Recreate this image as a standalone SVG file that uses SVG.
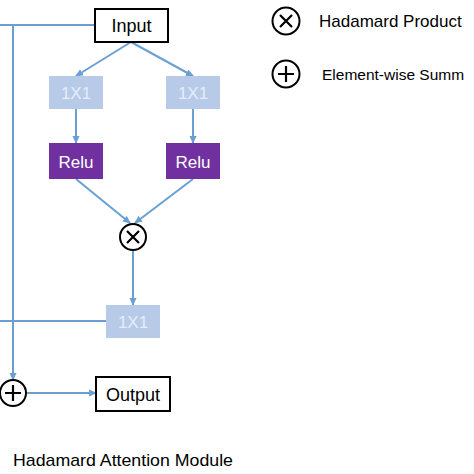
<svg xmlns="http://www.w3.org/2000/svg" width="474" height="474" viewBox="0 0 474 474">
<style>
.ln{stroke:#6a9fd4;stroke-width:2;fill:none}
.bx{fill:#fff;stroke:#000;stroke-width:2}
.c1{fill:#b7cae8}
.rl{fill:#7030a0}
.t{font-family:"Liberation Sans",Arial,sans-serif;font-size:17px;text-anchor:middle}
.tl{font-family:"Liberation Sans",Arial,sans-serif;font-size:17px}
.big{font-size:18px}
.w{fill:#fff}
.lw{fill:#e6edf8}
.op{fill:#fff;stroke:#000;stroke-width:2}
.sym{stroke:#000;stroke-width:2.2;fill:none}
</style>
<defs>
<marker id="ah" markerWidth="8" markerHeight="8" refX="7" refY="4" orient="auto" markerUnits="userSpaceOnUse">
<path d="M0,0.5 L8,4 L0,7.5 Z" fill="#6a9fd4"/>
</marker>
</defs>
<g id="connectors">
<path class="ln" d="M94,25 H0"/>
<path class="ln" d="M13,25 V380" marker-end="url(#ah)"/>
<path class="ln" d="M131,42 L76,76" marker-end="url(#ah)"/>
<path class="ln" d="M131,42 L193,76" marker-end="url(#ah)"/>
<path class="ln" d="M76,109 V143" marker-end="url(#ah)"/>
<path class="ln" d="M193,109 V143" marker-end="url(#ah)"/>
<path class="ln" d="M76,179 L130,223" marker-end="url(#ah)"/>
<path class="ln" d="M193,179 L135,223" marker-end="url(#ah)"/>
<path class="ln" d="M133,250 V305" marker-end="url(#ah)"/>
<path class="ln" d="M106,321 H0"/>
<path class="ln" d="M26,393 H96" marker-end="url(#ah)"/>
</g>
<g id="input"><rect class="bx" x="95" y="9" width="73" height="33"/><text class="t big" x="131.5" y="31.5">Input</text></g>
<g id="conv1"><rect class="c1" x="49" y="76" width="54" height="33"/><text class="t lw" x="76" y="98.5">1X1</text></g>
<g id="conv2"><rect class="c1" x="166" y="76" width="54" height="33"/><text class="t lw" x="193" y="98.5">1X1</text></g>
<g id="relu1"><rect class="rl" x="49" y="143" width="54" height="36"/><text class="t w" x="76" y="167.5">Relu</text></g>
<g id="relu2"><rect class="rl" x="166" y="143" width="54" height="36"/><text class="t w" x="193" y="167.5">Relu</text></g>
<g id="hadamard"><circle class="op" cx="133" cy="237" r="13"/><path class="sym" d="M127,231 L139,243 M139,231 L127,243"/></g>
<g id="conv3"><rect class="c1" x="106" y="305" width="54" height="33"/><text class="t lw" x="133" y="327.5">1X1</text></g>
<g id="sum"><circle class="op" cx="13" cy="393" r="13"/><path class="sym" d="M13,385 V401 M5,393 H21"/></g>
<g id="output"><rect class="bx" x="96" y="377" width="74" height="34"/><text class="t big" x="133" y="400.5">Output</text></g>
<g id="legend">
<circle class="op" cx="286" cy="21" r="13.5"/><path class="sym" d="M280,15 L292,27 M292,15 L280,27"/>
<text class="tl" x="319" y="27">Hadamard Product</text>
<circle class="op" cx="286" cy="74" r="13.5"/><path class="sym" d="M286,66 V82 M278,74 H294"/>
<text class="tl" x="322" y="80" style="font-size:15.5px">Element-wise Summ</text>
</g>
<text class="tl" x="13" y="466" textLength="220" lengthAdjust="spacingAndGlyphs">Hadamard Attention Module</text>
</svg>
